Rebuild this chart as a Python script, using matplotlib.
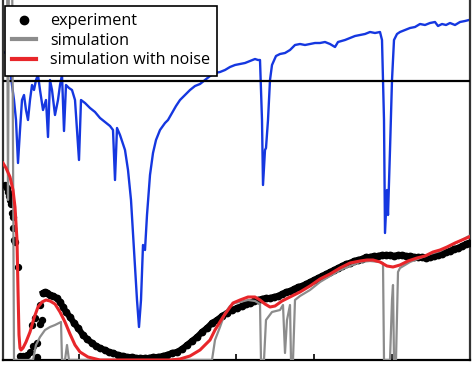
import matplotlib
matplotlib.use("Agg")
import matplotlib.pyplot as plt
from matplotlib.lines import Line2D

plt.rcParams['font.family'] = ['Open Sans', 'DejaVu Sans']

# ---- data (x in arbitrary units, y = signal height) ----
blue_x = [3,6,9,12,14,16,18,20,22,24,26,28,30,32,34,36,38,40,43,46,48,50,52,55,58,60,62,64,66,69,72,75,79,81,85,90,95,100,105,110,113,115,117,120,125,128,131,134,137,139,141,143,145,147,150,153,156,160,165,168,172,176,180,185,190,195,200,205,210,215,220,225,230,235,240,245,250,255,258,260,262,263,265,266,268,270,272,276,280,285,290,295,300,305,310,315,320,325,330,335,338,345,350,355,360,365,370,375,380,382,384,385,387,388,390,392,394,397,400,405,410,415,420,425,430,435,438,442,446,450,455,460,465,469]
blue_y = [308,307,300,275,260,240,197,230,260,265,250,240,260,275,270,280,285,270,250,260,223,280,270,245,260,275,285,229,275,272,270,260,200,260,257,252,248,242,238,234,230,180,232,225,210,190,160,110,60,33,60,115,110,145,185,207,220,230,237,240,247,254,260,265,270,274,276,280,284,287,288,290,293,295,296,297,299,301,300,300,240,175,210,212,240,280,295,304,306,307,310,315,316,315,316,317,317,318,316,313,318,320,322,324,325,326,328,327,328,320,240,127,170,145,210,280,320,326,328,330,332,333,336,335,337,338,334,336,335,337,335,338,339,340]

sim_x = [3,7,8,9,12,14,33,36,40,45,50,55,61,62,65,67,69,212,215,220,225,230,235,240,248,255,260,261,264,266,272,280,283,285,287,290,291,293,295,300,310,320,330,340,350,360,370,380,383,384,390,392,393,394,396,398,400,410,420,430,440,450,460,469]
sim_y = [420,420,160,420,420,0,0,15,23,30,33,35,38,0,0,15,0,0,20,33,47,54,57,58,60,59,56,0,0,40,48,50,55,7,40,55,0,0,60,64,70,78,84,90,94,98,99,98,97,0,0,60,75,0,0,88,92,98,102,106,109,114,119,124]

noise_x = [3,6,10,13,15,17,18,19,20,21,23,26,30,34,38,42,46,50,55,60,65,70,75,80,88,100,150,170,180,190,200,210,215,223,233,240,248,255,260,265,270,275,282,290,300,310,320,330,340,350,360,367,373,380,387,393,400,408,417,425,433,440,447,455,462,469]
noise_y = [197,192,183,170,153,120,70,25,12,10,12,18,28,42,53,58,60,59,56,48,38,26,15,8,3,0,0,0,1,4,10,20,30,43,57,60,63,63,60,56,53,54,59,63,68,74,81,86,92,97,99,100,100,98,94,93,95,99,102,104,108,110,113,117,120,123]

# experiment: sparse points (steep edge / scattered region)
exp_sparse_x = [5,7,8,9,10,11,12,12.5,13,14,15,18,20,23,27,30,33,37,37,32,35,40,42,40]
exp_sparse_y = [175,172,168,164,160,156,147,143,132,120,118,93,4,4,5,8,14,17,3,35,42,36,40,55]
# experiment: dense trace
exp_x = [43,45,47,50,53,57,60,63,66,70,74,78,83,87,92,96,100,105,109,113,118,123,127,132,136,140,145,149,153,158,163,167,172,177,182,187,192,197,202,207,212,217,222,227,232,237,242,246,250,254,258,262,266,270,274,278,282,286,290,294,298,302,306,310,314,318,322,326,330,334,338,342,346,350,354,358,362,366,370,374,378,382,386,390,394,398,402,406,410,414,418,422,426,430,434,438,442,446,450,454,458,462,466,469]
exp_y = [67,68,67,65,64,62,58,53,48,43,37,32,25,21,17,14,12,10,8,7,5,4,3,3,2,2,2,2,3,3,4,5,7,8,11,15,19,23,28,32,37,40,44,47,50,52,54,56,57,59,60,61,62,62,63,64,66,68,69,71,73,74,76,78,80,82,84,86,88,90,92,94,96,97,99,100,101,103,103,104,104,105,105,105,104,105,105,104,104,103,103,103,102,103,104,105,106,108,109,111,112,114,116,117]

ref_level = 279
tick_pos = [79, 157, 236, 314, 392]

# ---- figure ----
W, H = 474, 365
fig = plt.figure(figsize=(W/100, H/100), dpi=100)
ax = fig.add_axes([3/W, 5/H, 467/W, 360/H])
ax.set_xlim(3, 470)
ax.set_ylim(0, 360)

ax.plot(blue_x, blue_y, color='#1537e0', lw=1.7, zorder=2)
ax.axhline(ref_level, color='black', lw=1.6, zorder=3)
ax.plot(exp_sparse_x, exp_sparse_y, 'o', color='black', ms=4.3, zorder=4)
ax.plot(exp_x, exp_y, '-o', color='black', ms=4.6, lw=4.4, zorder=4)
ax.plot(sim_x, sim_y, color='#8c8c8c', lw=1.6, zorder=5)
ax.plot(noise_x, noise_y, color='#e8262a', lw=2.2, zorder=6)

ax.set_xticks(tick_pos)
ax.set_xticklabels([])
ax.set_yticks([])
ax.tick_params(axis='x', direction='in', length=4, width=1.2, color='black')
ax.spines['top'].set_visible(False)
for s in ['left', 'right']:
    ax.spines[s].set_color('#333333')
    ax.spines[s].set_linewidth(1.6)
ax.spines['bottom'].set_color('black')
ax.spines['bottom'].set_linewidth(1.6)

handles = [Line2D([], [], ls='none', marker='o', color='black', ms=6),
           Line2D([], [], color='#8c8c8c', lw=3),
           Line2D([], [], color='#e8262a', lw=3)]
labels = ['experiment', 'simulation', 'simulation with noise']
leg = ax.legend(handles, labels, loc='upper left',
                bbox_to_anchor=(5/W, 1 - 6/H), bbox_transform=fig.transFigure,
                borderaxespad=0, fontsize=11.6, frameon=True, fancybox=False,
                handlelength=1.5, handletextpad=0.85, labelspacing=0.22,
                borderpad=0.45)
leg.get_frame().set_edgecolor('black')
leg.get_frame().set_linewidth(1.2)
leg.get_frame().set_alpha(1)
leg.set_zorder(10)

fig.savefig('out.png', dpi=100)
